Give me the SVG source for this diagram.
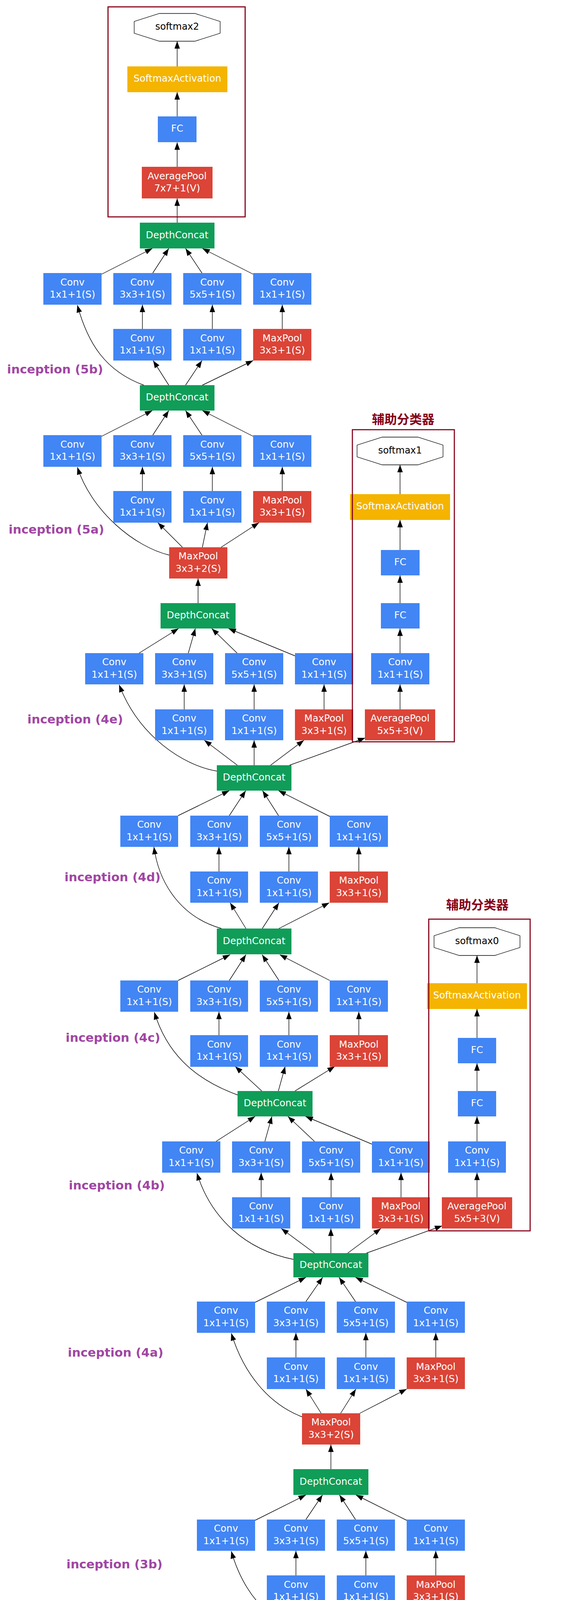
<svg xmlns="http://www.w3.org/2000/svg" width="1500" height="5758" viewBox="0 0 1500 5758">
<style>
.b{fill:#4285f4}.r{fill:#db4437}.g{fill:#0f9d58}.y{fill:#f4b400}
.oc{fill:#fff;stroke:#000;stroke-width:1.3}
.t{font-family:"DejaVu Sans","Liberation Sans",sans-serif;font-size:24.5px;fill:#fff;text-anchor:middle}
.to{font-family:"DejaVu Sans","Liberation Sans",sans-serif;font-size:24px;fill:#000;text-anchor:middle}
.il{font-family:"DejaVu Sans","Liberation Sans",sans-serif;font-size:31px;font-weight:bold;fill:#a046a4}
.cn{font-family:"Noto Sans CJK SC",sans-serif;font-size:32px;font-weight:bold;fill:#850018;text-anchor:middle}
.fr{fill:none;stroke:#850018;stroke-width:2.8}
.fy{fill:none;stroke:#fbbc05;stroke-width:2.5}
.e path{fill:none;stroke:#000;stroke-width:1.4;marker-end:url(#ah)}
</style>
<defs>
<marker id="ah" viewBox="0 0 19 14" refX="19" refY="7" markerWidth="19" markerHeight="14" markerUnits="userSpaceOnUse" orient="auto"><path d="M0,0L19,7L0,14Z" fill="#000"/></marker>
</defs>
<rect width="1500" height="5758" fill="#fff"/>
<g id="labels">
<text class="cn" x="1032" y="1085">辅助分类器</text>
<text class="cn" x="1222" y="2328">辅助分类器</text>
<text class="il" x="18" y="956">inception (5b)</text>
<text class="il" x="22" y="1366">inception (5a)</text>
<text class="il" x="70" y="1852">inception (4e)</text>
<text class="il" x="165" y="2256">inception (4d)</text>
<text class="il" x="168" y="2667">inception (4c)</text>
<text class="il" x="176" y="3045">inception (4b)</text>
<text class="il" x="173.5" y="3473">inception (4a)</text>
<text class="il" x="170" y="4015">inception (3b)</text>
<text class="il" x="173.5" y="4412">inception (3a)</text>
<text class="il" x="619" y="4979">2</text>
<text class="il" x="620" y="5400">1</text>
</g>
<g id="connectors" class="e">
<path d="M453.5,570V508"/><path d="M453.5,427V364.5"/><path d="M453.5,298V236"/><path d="M453.5,170V105.5"/>
<path d="M260,702L390,636"/><path d="M391,699L432,636"/><path d="M517,699L475,636"/><path d="M648,702L518,636"/>
<path d="M364.5,842V780"/><path d="M543.5,842V780"/><path d="M722.5,842V780"/>
<path d="M368,986C270,950 225,880 198,781"/><path d="M432,986L392,923"/><path d="M475,986L517,923"/><path d="M518,986L648,923"/>
<path d="M260,1117L390,1051"/><path d="M391,1114L432,1051"/><path d="M517,1114L475,1051"/><path d="M648,1117L518,1051"/>
<path d="M364.5,1257V1195"/><path d="M543.5,1257V1195"/><path d="M722.5,1257V1195"/>
<path d="M433,1421C345,1400 235,1310 198,1196"/><path d="M467,1401L404,1338"/><path d="M518,1401L531,1338"/><path d="M566,1401L663,1338"/>
<path d="M507,1544V1481"/>
<path d="M356,1672L457,1609"/><path d="M482,1672L500,1609"/><path d="M607,1672L542,1609"/><path d="M755,1679L585,1609"/>
<path d="M471.5,1816V1752"/><path d="M650.5,1816V1752"/><path d="M829.5,1816V1752"/>
<path d="M555,1974C470,1960 355,1885 305,1753"/><path d="M607.5,1959L523,1895"/><path d="M650.5,1959V1895"/><path d="M692.6,1959L778,1895"/><path d="M741,1959L935,1889"/>
<path d="M1024,1816V1752"/><path d="M1024,1672V1609"/><path d="M1024,1544V1473"/><path d="M1024,1408V1331"/><path d="M1024,1265V1190"/>
<path d="M456,2088L587,2024"/><path d="M587,2088L629,2024"/><path d="M713,2088L672,2024"/><path d="M844,2090L713,2024"/>
<path d="M560.5,2231V2168"/><path d="M739.5,2231V2168"/><path d="M918.5,2231V2168"/>
<path d="M567,2377C470,2350 408,2270 394,2168"/><path d="M629.5,2377L589,2311"/><path d="M671.4,2377L714,2311"/><path d="M714,2377L843,2311"/>
<path d="M456,2510L589,2444"/><path d="M587,2510L629.5,2444"/><path d="M714,2510L671,2444"/><path d="M844,2510L716,2444"/>
<path d="M560.5,2650V2590"/><path d="M739.5,2650V2590"/><path d="M918.5,2650V2590"/>
<path d="M608,2803C490,2760 425,2690 395,2591"/><path d="M670,2793L602,2730"/><path d="M712.5,2793L730,2730"/><path d="M755,2793L857,2730"/>
<path d="M553,2922L653,2858"/><path d="M678,2922L696,2858"/><path d="M805,2922L737,2858"/><path d="M952,2929L782,2858"/>
<path d="M668.5,3065V3002"/><path d="M847.5,3065V3002"/><path d="M1026.5,3065V3002"/>
<path d="M751,3224C630,3200 540,3120 504,3003"/><path d="M805,3208L720,3145"/><path d="M847,3208V3145"/><path d="M890,3208L975,3145"/><path d="M938,3208L1132,3138"/>
<path d="M1221,3065V3002"/><path d="M1221,2922V2858"/><path d="M1221,2793V2722"/><path d="M1221,2657V2583"/><path d="M1221,2517V2446"/>
<path d="M653,3334L783,3270"/><path d="M783,3332L826,3270"/><path d="M910,3332L868,3270"/><path d="M1041,3334L910,3270"/>
<path d="M757.5,3475V3412"/><path d="M936.5,3475V3412"/><path d="M1115.5,3475V3412"/>
<path d="M773,3627C690,3595 625,3520 592,3413"/><path d="M822,3618L783,3556"/><path d="M872,3618L911,3556"/><path d="M921,3618L1041,3556"/>
<path d="M847,3761V3698"/>
<path d="M653,3892L783,3827"/><path d="M783,3890L825.5,3827"/><path d="M910,3890L869,3827"/><path d="M1041,3892L911,3827"/>
<path d="M757.5,4033V3970"/><path d="M936.5,4033V3970"/><path d="M1115.5,4033V3970"/>
<path d="M760,4176C680,4140 622,4075 592,3971"/><path d="M824,4176L783,4114"/><path d="M867.6,4176L911,4114"/><path d="M909,4176L1041,4114"/>
<path d="M652,4307L782,4242"/><path d="M782,4305L824,4242"/><path d="M909,4305L868,4242"/><path d="M1040,4307L910,4242"/>
<path d="M756.5,4448V4385"/><path d="M935.5,4448V4385"/><path d="M1114.5,4448V4385"/>
<path d="M772,4600C690,4570 625,4495 592,4386"/><path d="M821,4592L781,4528"/><path d="M870.7,4592L911,4528"/><path d="M919.6,4592L1040.5,4528"/>
<path d="M846,4735V4672"/><path d="M846,4849V4800"/><path d="M846,4993V4929.5"/><path d="M846,5136V5072"/><path d="M846,5265V5201"/><path d="M846,5408V5344"/><path d="M846,5552V5488"/>
</g>
<g id="softmax2"><polygon class="oc" points="408,34.5 499,34.5 563.5,55 563.5,85 499,105.5 408,105.5 343.5,85 343.5,55"/><text class="to" x="453.5" y="76">softmax2</text></g>
<g id="sa2"><rect class="y" x="326" y="170" width="256" height="66"/><text class="t" x="454" y="209">SoftmaxActivation</text></g>
<g id="fc2"><rect class="b" x="404" y="298" width="99" height="66"/><text class="t" x="453.5" y="337">FC</text></g>
<g id="avg2"><rect class="r" x="363" y="427" width="181" height="81"/><text class="t" x="453.5" y="458.5">AveragePool</text><text class="t" x="453.5" y="490">7x7+1(V)</text></g>
<g id="dc5b"><rect class="g" x="358" y="570" width="191" height="66"/><text class="t" x="453.5" y="609.5">DepthConcat</text></g>
<g id="i5b_c1"><rect class="b" x="111" y="699" width="149" height="81"/><text class="t" x="185.5" y="730.5">Conv</text><text class="t" x="185.5" y="762">1x1+1(S)</text></g>
<g id="i5b_c2"><rect class="b" x="290" y="699" width="149" height="81"/><text class="t" x="364.5" y="730.5">Conv</text><text class="t" x="364.5" y="762">3x3+1(S)</text></g>
<g id="i5b_c3"><rect class="b" x="469" y="699" width="149" height="81"/><text class="t" x="543.5" y="730.5">Conv</text><text class="t" x="543.5" y="762">5x5+1(S)</text></g>
<g id="i5b_c4"><rect class="b" x="648" y="699" width="149" height="81"/><text class="t" x="722.5" y="730.5">Conv</text><text class="t" x="722.5" y="762">1x1+1(S)</text></g>
<g id="i5b_r2"><rect class="b" x="290" y="842" width="149" height="81"/><text class="t" x="364.5" y="873.5">Conv</text><text class="t" x="364.5" y="905">1x1+1(S)</text></g>
<g id="i5b_r3"><rect class="b" x="469" y="842" width="149" height="81"/><text class="t" x="543.5" y="873.5">Conv</text><text class="t" x="543.5" y="905">1x1+1(S)</text></g>
<g id="i5b_mp"><rect class="r" x="648" y="842" width="149" height="81"/><text class="t" x="722.5" y="873.5">MaxPool</text><text class="t" x="722.5" y="905">3x3+1(S)</text></g>
<g id="dc5a"><rect class="g" x="358" y="986" width="191" height="65"/><text class="t" x="453.5" y="1025">DepthConcat</text></g>
<g id="i5a_c1"><rect class="b" x="111" y="1114" width="149" height="81"/><text class="t" x="185.5" y="1145.5">Conv</text><text class="t" x="185.5" y="1177">1x1+1(S)</text></g>
<g id="i5a_c2"><rect class="b" x="290" y="1114" width="149" height="81"/><text class="t" x="364.5" y="1145.5">Conv</text><text class="t" x="364.5" y="1177">3x3+1(S)</text></g>
<g id="i5a_c3"><rect class="b" x="469" y="1114" width="149" height="81"/><text class="t" x="543.5" y="1145.5">Conv</text><text class="t" x="543.5" y="1177">5x5+1(S)</text></g>
<g id="i5a_c4"><rect class="b" x="648" y="1114" width="149" height="81"/><text class="t" x="722.5" y="1145.5">Conv</text><text class="t" x="722.5" y="1177">1x1+1(S)</text></g>
<g id="i5a_r2"><rect class="b" x="290" y="1257" width="149" height="81"/><text class="t" x="364.5" y="1288.5">Conv</text><text class="t" x="364.5" y="1320">1x1+1(S)</text></g>
<g id="i5a_r3"><rect class="b" x="469" y="1257" width="149" height="81"/><text class="t" x="543.5" y="1288.5">Conv</text><text class="t" x="543.5" y="1320">1x1+1(S)</text></g>
<g id="i5a_mp"><rect class="r" x="648" y="1257" width="149" height="81"/><text class="t" x="722.5" y="1288.5">MaxPool</text><text class="t" x="722.5" y="1320">3x3+1(S)</text></g>
<g id="mp5"><rect class="r" x="433" y="1401" width="149" height="80"/><text class="t" x="507.5" y="1432">MaxPool</text><text class="t" x="507.5" y="1463.5">3x3+2(S)</text></g>
<g id="dc4e"><rect class="g" x="411" y="1544" width="192" height="65"/><text class="t" x="507" y="1583">DepthConcat</text></g>
<g id="i4e_c1"><rect class="b" x="218" y="1672" width="149" height="80"/><text class="t" x="292.5" y="1703">Conv</text><text class="t" x="292.5" y="1734.5">1x1+1(S)</text></g>
<g id="i4e_c2"><rect class="b" x="397" y="1672" width="149" height="80"/><text class="t" x="471.5" y="1703">Conv</text><text class="t" x="471.5" y="1734.5">3x3+1(S)</text></g>
<g id="i4e_c3"><rect class="b" x="576" y="1672" width="149" height="80"/><text class="t" x="650.5" y="1703">Conv</text><text class="t" x="650.5" y="1734.5">5x5+1(S)</text></g>
<g id="i4e_c4"><rect class="b" x="755" y="1672" width="149" height="80"/><text class="t" x="829.5" y="1703">Conv</text><text class="t" x="829.5" y="1734.5">1x1+1(S)</text></g>
<g id="i4e_r2"><rect class="b" x="397" y="1816" width="149" height="79"/><text class="t" x="471.5" y="1847">Conv</text><text class="t" x="471.5" y="1878.5">1x1+1(S)</text></g>
<g id="i4e_r3"><rect class="b" x="576" y="1816" width="149" height="79"/><text class="t" x="650.5" y="1847">Conv</text><text class="t" x="650.5" y="1878.5">1x1+1(S)</text></g>
<g id="i4e_mp"><rect class="r" x="755" y="1816" width="149" height="79"/><text class="t" x="829.5" y="1847">MaxPool</text><text class="t" x="829.5" y="1878.5">3x3+1(S)</text></g>
<g id="softmax1"><polygon class="oc" points="978.5,1119 1069.5,1119 1134,1139.5 1134,1169.5 1069.5,1190 978.5,1190 914,1169.5 914,1139.5"/><text class="to" x="1024" y="1160.5">softmax1</text></g>
<g id="sa1"><rect class="y" x="896" y="1265" width="256" height="66"/><text class="t" x="1024" y="1304">SoftmaxActivation</text></g>
<g id="fc1b"><rect class="b" x="975" y="1408" width="99" height="65"/><text class="t" x="1024.5" y="1447">FC</text></g>
<g id="fc1a"><rect class="b" x="975" y="1544" width="99" height="65"/><text class="t" x="1024.5" y="1583">FC</text></g>
<g id="conv_a1"><rect class="b" x="950" y="1672" width="149" height="80"/><text class="t" x="1024.5" y="1703">Conv</text><text class="t" x="1024.5" y="1734.5">1x1+1(S)</text></g>
<g id="avg1"><rect class="r" x="934" y="1816" width="180" height="79"/><text class="t" x="1024" y="1847">AveragePool</text><text class="t" x="1024" y="1878.5">5x5+3(V)</text></g>
<g id="dc4d"><rect class="g" x="555" y="1959" width="191" height="65"/><text class="t" x="650.5" y="1998">DepthConcat</text></g>
<g id="i4d_c1"><rect class="b" x="308" y="2088" width="148" height="80"/><text class="t" x="382" y="2119">Conv</text><text class="t" x="382" y="2150.5">1x1+1(S)</text></g>
<g id="i4d_c2"><rect class="b" x="487" y="2088" width="148" height="80"/><text class="t" x="561" y="2119">Conv</text><text class="t" x="561" y="2150.5">3x3+1(S)</text></g>
<g id="i4d_c3"><rect class="b" x="665" y="2088" width="149" height="80"/><text class="t" x="739.5" y="2119">Conv</text><text class="t" x="739.5" y="2150.5">5x5+1(S)</text></g>
<g id="i4d_c4"><rect class="b" x="844" y="2088" width="149" height="80"/><text class="t" x="918.5" y="2119">Conv</text><text class="t" x="918.5" y="2150.5">1x1+1(S)</text></g>
<g id="i4d_r2"><rect class="b" x="487" y="2231" width="148" height="80"/><text class="t" x="561" y="2262">Conv</text><text class="t" x="561" y="2293.5">1x1+1(S)</text></g>
<g id="i4d_r3"><rect class="b" x="665" y="2231" width="149" height="80"/><text class="t" x="739.5" y="2262">Conv</text><text class="t" x="739.5" y="2293.5">1x1+1(S)</text></g>
<g id="i4d_mp"><rect class="r" x="844" y="2231" width="149" height="80"/><text class="t" x="918.5" y="2262">MaxPool</text><text class="t" x="918.5" y="2293.5">3x3+1(S)</text></g>
<g id="dc4c"><rect class="g" x="555" y="2377" width="191" height="66"/><text class="t" x="650.5" y="2416.5">DepthConcat</text></g>
<g id="i4c_c1"><rect class="b" x="308" y="2510" width="148" height="80"/><text class="t" x="382" y="2541">Conv</text><text class="t" x="382" y="2572.5">1x1+1(S)</text></g>
<g id="i4c_c2"><rect class="b" x="487" y="2510" width="148" height="80"/><text class="t" x="561" y="2541">Conv</text><text class="t" x="561" y="2572.5">3x3+1(S)</text></g>
<g id="i4c_c3"><rect class="b" x="665" y="2510" width="149" height="80"/><text class="t" x="739.5" y="2541">Conv</text><text class="t" x="739.5" y="2572.5">5x5+1(S)</text></g>
<g id="i4c_c4"><rect class="b" x="844" y="2510" width="149" height="80"/><text class="t" x="918.5" y="2541">Conv</text><text class="t" x="918.5" y="2572.5">1x1+1(S)</text></g>
<g id="i4c_r2"><rect class="b" x="487" y="2650" width="148" height="81"/><text class="t" x="561" y="2681.5">Conv</text><text class="t" x="561" y="2713">1x1+1(S)</text></g>
<g id="i4c_r3"><rect class="b" x="665" y="2650" width="149" height="81"/><text class="t" x="739.5" y="2681.5">Conv</text><text class="t" x="739.5" y="2713">1x1+1(S)</text></g>
<g id="i4c_mp"><rect class="r" x="844" y="2650" width="149" height="81"/><text class="t" x="918.5" y="2681.5">MaxPool</text><text class="t" x="918.5" y="2713">3x3+1(S)</text></g>
<g id="dc4b"><rect class="g" x="608" y="2793" width="192" height="65"/><text class="t" x="704" y="2832">DepthConcat</text></g>
<g id="softmax0"><polygon class="oc" points="1175.5,2375 1266.5,2375 1331,2395.5 1331,2425.5 1266.5,2446 1175.5,2446 1111,2425.5 1111,2395.5"/><text class="to" x="1221" y="2416.5">softmax0</text></g>
<g id="sa0"><rect class="y" x="1093" y="2517" width="256" height="66"/><text class="t" x="1221" y="2556">SoftmaxActivation</text></g>
<g id="fc0b"><rect class="b" x="1172" y="2657" width="98" height="65"/><text class="t" x="1221" y="2696">FC</text></g>
<g id="fc0a"><rect class="b" x="1172" y="2793" width="98" height="65"/><text class="t" x="1221" y="2832">FC</text></g>
<g id="conv_a0"><rect class="b" x="1147" y="2922" width="148" height="80"/><text class="t" x="1221" y="2953">Conv</text><text class="t" x="1221" y="2984.5">1x1+1(S)</text></g>
<g id="avg0"><rect class="r" x="1131" y="3065" width="180" height="80"/><text class="t" x="1221" y="3096">AveragePool</text><text class="t" x="1221" y="3127.5">5x5+3(V)</text></g>
<g id="i4b_c1"><rect class="b" x="415" y="2922" width="149" height="80"/><text class="t" x="489.5" y="2953">Conv</text><text class="t" x="489.5" y="2984.5">1x1+1(S)</text></g>
<g id="i4b_c2"><rect class="b" x="594" y="2922" width="149" height="80"/><text class="t" x="668.5" y="2953">Conv</text><text class="t" x="668.5" y="2984.5">3x3+1(S)</text></g>
<g id="i4b_c3"><rect class="b" x="773" y="2922" width="149" height="80"/><text class="t" x="847.5" y="2953">Conv</text><text class="t" x="847.5" y="2984.5">5x5+1(S)</text></g>
<g id="i4b_c4"><rect class="b" x="952" y="2922" width="148" height="80"/><text class="t" x="1026" y="2953">Conv</text><text class="t" x="1026" y="2984.5">1x1+1(S)</text></g>
<g id="i4b_r2"><rect class="b" x="594" y="3065" width="149" height="80"/><text class="t" x="668.5" y="3096">Conv</text><text class="t" x="668.5" y="3127.5">1x1+1(S)</text></g>
<g id="i4b_r3"><rect class="b" x="773" y="3065" width="149" height="80"/><text class="t" x="847.5" y="3096">Conv</text><text class="t" x="847.5" y="3127.5">1x1+1(S)</text></g>
<g id="i4b_mp"><rect class="r" x="952" y="3065" width="148" height="80"/><text class="t" x="1026" y="3096">MaxPool</text><text class="t" x="1026" y="3127.5">3x3+1(S)</text></g>
<g id="dc4a"><rect class="g" x="751" y="3208" width="192" height="62"/><text class="t" x="847" y="3246">DepthConcat</text></g>
<g id="i4a_c1"><rect class="b" x="504" y="3332" width="149" height="80"/><text class="t" x="578.5" y="3363">Conv</text><text class="t" x="578.5" y="3394.5">1x1+1(S)</text></g>
<g id="i4a_c2"><rect class="b" x="683" y="3332" width="149" height="80"/><text class="t" x="757.5" y="3363">Conv</text><text class="t" x="757.5" y="3394.5">3x3+1(S)</text></g>
<g id="i4a_c3"><rect class="b" x="862" y="3332" width="149" height="80"/><text class="t" x="936.5" y="3363">Conv</text><text class="t" x="936.5" y="3394.5">5x5+1(S)</text></g>
<g id="i4a_c4"><rect class="b" x="1041" y="3332" width="149" height="80"/><text class="t" x="1115.5" y="3363">Conv</text><text class="t" x="1115.5" y="3394.5">1x1+1(S)</text></g>
<g id="i4a_r2"><rect class="b" x="683" y="3475" width="149" height="81"/><text class="t" x="757.5" y="3506.5">Conv</text><text class="t" x="757.5" y="3538">1x1+1(S)</text></g>
<g id="i4a_r3"><rect class="b" x="862" y="3475" width="149" height="81"/><text class="t" x="936.5" y="3506.5">Conv</text><text class="t" x="936.5" y="3538">1x1+1(S)</text></g>
<g id="i4a_mp"><rect class="r" x="1041" y="3475" width="149" height="81"/><text class="t" x="1115.5" y="3506.5">MaxPool</text><text class="t" x="1115.5" y="3538">3x3+1(S)</text></g>
<g id="mp4"><rect class="r" x="773" y="3618" width="149" height="80"/><text class="t" x="847.5" y="3649">MaxPool</text><text class="t" x="847.5" y="3680.5">3x3+2(S)</text></g>
<g id="dc3b"><rect class="g" x="751" y="3761" width="192" height="66"/><text class="t" x="847" y="3800.5">DepthConcat</text></g>
<g id="i3b_c1"><rect class="b" x="504" y="3890" width="149" height="80"/><text class="t" x="578.5" y="3921">Conv</text><text class="t" x="578.5" y="3952.5">1x1+1(S)</text></g>
<g id="i3b_c2"><rect class="b" x="683" y="3890" width="149" height="80"/><text class="t" x="757.5" y="3921">Conv</text><text class="t" x="757.5" y="3952.5">3x3+1(S)</text></g>
<g id="i3b_c3"><rect class="b" x="862" y="3890" width="149" height="80"/><text class="t" x="936.5" y="3921">Conv</text><text class="t" x="936.5" y="3952.5">5x5+1(S)</text></g>
<g id="i3b_c4"><rect class="b" x="1041" y="3890" width="149" height="80"/><text class="t" x="1115.5" y="3921">Conv</text><text class="t" x="1115.5" y="3952.5">1x1+1(S)</text></g>
<g id="i3b_r2"><rect class="b" x="683" y="4033" width="149" height="81"/><text class="t" x="757.5" y="4064.5">Conv</text><text class="t" x="757.5" y="4096">1x1+1(S)</text></g>
<g id="i3b_r3"><rect class="b" x="862" y="4033" width="149" height="81"/><text class="t" x="936.5" y="4064.5">Conv</text><text class="t" x="936.5" y="4096">1x1+1(S)</text></g>
<g id="i3b_mp"><rect class="r" x="1041" y="4033" width="149" height="81"/><text class="t" x="1115.5" y="4064.5">MaxPool</text><text class="t" x="1115.5" y="4096">3x3+1(S)</text></g>
<g id="dc3a"><rect class="g" x="750" y="4176" width="192" height="66"/><text class="t" x="846" y="4215.5">DepthConcat</text></g>
<g id="i3a_c1"><rect class="b" x="503" y="4305" width="149" height="80"/><text class="t" x="577.5" y="4336">Conv</text><text class="t" x="577.5" y="4367.5">1x1+1(S)</text></g>
<g id="i3a_c2"><rect class="b" x="682" y="4305" width="149" height="80"/><text class="t" x="756.5" y="4336">Conv</text><text class="t" x="756.5" y="4367.5">3x3+1(S)</text></g>
<g id="i3a_c3"><rect class="b" x="861" y="4305" width="149" height="80"/><text class="t" x="935.5" y="4336">Conv</text><text class="t" x="935.5" y="4367.5">5x5+1(S)</text></g>
<g id="i3a_c4"><rect class="b" x="1040" y="4305" width="149" height="80"/><text class="t" x="1114.5" y="4336">Conv</text><text class="t" x="1114.5" y="4367.5">1x1+1(S)</text></g>
<g id="i3a_r2"><rect class="b" x="682" y="4448" width="149" height="80"/><text class="t" x="756.5" y="4479">Conv</text><text class="t" x="756.5" y="4510.5">1x1+1(S)</text></g>
<g id="i3a_r3"><rect class="b" x="861" y="4448" width="149" height="80"/><text class="t" x="935.5" y="4479">Conv</text><text class="t" x="935.5" y="4510.5">1x1+1(S)</text></g>
<g id="i3a_mp"><rect class="r" x="1040" y="4448" width="149" height="80"/><text class="t" x="1114.5" y="4479">MaxPool</text><text class="t" x="1114.5" y="4510.5">3x3+1(S)</text></g>
<g id="mp3"><rect class="r" x="772" y="4592" width="149" height="80"/><text class="t" x="846.5" y="4623">MaxPool</text><text class="t" x="846.5" y="4654.5">3x3+2(S)</text></g>
<g id="lrn2"><rect class="g" x="736" y="4735" width="220" height="65"/><text class="t" x="846" y="4774">LocalRespNorm</text></g>
<g id="conv2b"><rect class="b" x="772" y="4849" width="149" height="80"/><text class="t" x="846.5" y="4880">Conv</text><text class="t" x="846.5" y="4911.5">3x3+1(S)</text></g>
<g id="conv2a"><rect class="b" x="770" y="4993" width="152" height="79"/><text class="t" x="846" y="5023.5">Conv</text><text class="t" x="846" y="5055">1x1+1(V)</text></g>
<g id="lrn1"><rect class="g" x="736" y="5136" width="220" height="65"/><text class="t" x="846" y="5175">LocalRespNorm</text></g>
<g id="mp1"><rect class="r" x="772" y="5265" width="149" height="79"/><text class="t" x="846.5" y="5295.5">MaxPool</text><text class="t" x="846.5" y="5327">3x3+2(S)</text></g>
<g id="conv1"><rect class="b" x="772" y="5408" width="149" height="80"/><text class="t" x="846.5" y="5439">Conv</text><text class="t" x="846.5" y="5470.5">7x7+2(S)</text></g>
<g id="input"><polygon class="oc" points="814,5552 878,5552 917.5,5573 917.5,5601 878,5622 814,5622 774.5,5601 774.5,5573"/><text class="to" x="846" y="5593">input</text></g>
<g id="frames">
<rect class="fr" x="276.5" y="17.6" width="351" height="537.6"/>
<rect class="fr" x="902" y="1100" width="261" height="799"/>
<rect class="fr" x="1097.5" y="2353" width="259.5" height="798"/>
<rect class="fy" x="691" y="4827" width="323" height="276"/>
<rect class="fy" x="695" y="5241" width="297" height="290"/>
</g>
</svg>
